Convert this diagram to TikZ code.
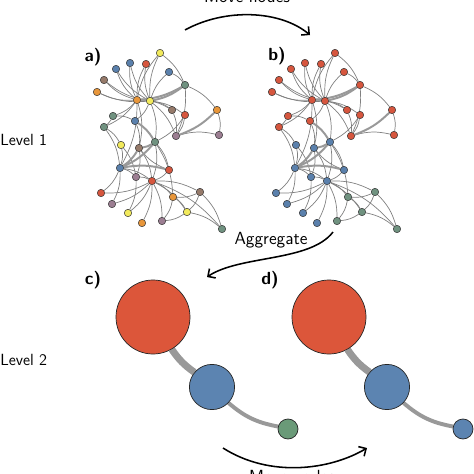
\documentclass[tikz,border=0pt]{standalone}
\usetikzlibrary{arrows.meta, backgrounds}

\definecolor{nRed}{RGB}{214,86,62}
\definecolor{nBlue}{RGB}{90,128,172}
\definecolor{nTeal}{RGB}{112,146,128}
\definecolor{nYellow}{RGB}{242,234,92}
\definecolor{nOrange}{RGB}{232,150,58}
\definecolor{nBrown}{RGB}{150,122,106}
\definecolor{nMauve}{RGB}{156,126,146}
\definecolor{bigRed}{RGB}{220,86,58}
\definecolor{bigBlue}{RGB}{92,132,177}
\definecolor{bigGreen}{RGB}{106,154,120}

\begin{document}
\begin{tikzpicture}[
    x=0.025cm, y=-0.025cm,
    gnode/.style={circle, draw=black!80, line width=0.35pt, inner sep=0pt, minimum size=5.3pt},
    gedge/.style={draw=black!50, line width=0.5pt},
    gthick/.style={draw=black!40, line width=1.4pt},
    bignode/.style={circle, draw=black!85, line width=0.5pt, inner sep=0pt},
    cedge/.style={draw=black!40},
    movearrow/.style={-{Straight Barb[length=4pt,width=8pt]}, line width=1.1pt},
    lbl/.style={font=\fontsize{12.5}{14}\selectfont\sffamily},
    levlbl/.style={font=\fontsize{11.5}{13}\selectfont\sffamily, anchor=west, inner sep=0pt},
    panel/.style={font=\fontsize{12.5}{14}\selectfont\sffamily\bfseries}
]
    \useasboundingbox (0,0) rectangle (474,474);
    \clip (0,0) rectangle (474,474);

    % Level 1 networks (a: nodes, b: communities)
    \foreach \i/\x/\y/\ca/\cb in {
        1/160/53/nYellow/nRed, 2/130/63/nBlue/nRed, 3/146/64/nRed/nRed,
        4/116/69/nBlue/nRed, 5/169/72/nBlue/nRed, 6/104/80/nBrown/nRed,
        7/97/92/nOrange/nRed, 8/185/85/nTeal/nRed, 9/137/100/nOrange/nRed,
        10/150/101/nYellow/nRed, 11/172/110/nBrown/nRed, 12/185/115/nRed/nRed,
        13/217/110/nOrange/nRed, 14/113/116/nTeal/nRed, 15/135/121/nBlue/nRed,
        16/104/127/nTeal/nRed, 17/176/136/nMauve/nRed, 18/219/135/nMauve/nRed,
        19/155/142/nTeal/nBlue, 20/121/145/nYellow/nBlue, 21/139/148/nBrown/nBlue,
        22/120/168/nBlue/nBlue, 23/169/170/nRed/nBlue, 24/136/177/nMauve/nBlue,
        25/152/181/nRed/nBlue, 26/101/193/nRed/nBlue, 27/200/192/nBrown/nTeal,
        28/173/197/nOrange/nTeal, 29/112/204/nMauve/nBlue, 30/187/212/nYellow/nTeal,
        31/128/213/nYellow/nBlue, 32/142/223/nOrange/nBlue, 33/162/221/nMauve/nTeal,
        34/222/229/nTeal/nTeal} {
        \node[gnode, fill=\ca] (a\i) at (\x,\y) {};
        \node[gnode, fill=\cb] (b\i) at (\x+175,\y) {};
    }

    \begin{pgfonlayer}{background}
    \foreach \s/\t in {9/2, 9/3, 9/4, 9/6, 9/7, 9/14, 9/16, 9/1, 9/22, 9/21, 9/11,
        10/1, 10/2, 10/3, 10/5, 10/11, 10/12, 10/17, 10/19, 10/15, 10/4, 10/7, 10/6,
        1/8, 5/8, 8/13, 8/17, 13/18, 17/18, 11/17, 12/17, 12/19,
        14/16, 14/15, 15/21, 16/22, 16/20,
        19/25, 19/23, 19/28, 20/22, 20/24, 21/25, 21/24, 23/21,
        22/24, 22/25, 22/26, 22/29, 23/25, 24/25, 24/31,
        25/26, 25/29, 25/31, 25/32, 25/33, 25/28, 25/27, 25/30, 25/34,
        27/28, 27/30, 27/34, 28/30, 30/33, 30/34, 28/33} {
        \draw[gedge] (a\s) to[bend left=14] (a\t);
        \draw[gedge] (b\s) to[bend left=14] (b\t);
    }
    \foreach \s/\t in {8/10, 8/9, 9/10, 13/17, 19/21, 21/22, 19/22, 22/23, 15/19} {
        \draw[gthick] (a\s) to[bend left=12] (a\t);
        \draw[gthick] (b\s) to[bend left=12] (b\t);
    }
    \end{pgfonlayer}

    % Level 2 aggregated networks
    \node[bignode, fill=bigRed, minimum size=1.85cm] (cR) at (153,317) {};
    \node[bignode, fill=bigBlue, minimum size=1.13cm] (cB) at (212,387) {};
    \node[bignode, fill=bigGreen, minimum size=0.5cm] (cG) at (288,429) {};
    \node[bignode, fill=bigRed, minimum size=1.85cm] (dR) at (329,317) {};
    \node[bignode, fill=bigBlue, minimum size=1.13cm] (dB) at (387,387) {};
    \node[bignode, fill=bigBlue, minimum size=0.5cm] (dS) at (463,429) {};

    \begin{pgfonlayer}{background}
    \draw[cedge, line width=5pt] (cR) to[bend right=10] (cB);
    \draw[cedge, line width=2.8pt] (cB) to[bend right=15] (cG);
    \draw[cedge, line width=5pt] (dR) to[bend right=10] (dB);
    \draw[cedge, line width=2.8pt] (dB) to[bend right=15] (dS);
    \end{pgfonlayer}

    % Labels
    \node[panel] (la) at (93,57) {a)};
    \node[panel] (lb) at (277,56) {b)};
    \node[panel] (lc) at (93,280) {c)};
    \node[panel] (ld) at (270,280) {d)};
    \node[levlbl] (lev1) at (0,140) {Level 1};
    \node[levlbl] (lev2) at (0,360) {Level 2};
    \node[lbl] (agg) at (271,240) {Aggregate};
    \node[lbl, anchor=base, inner sep=0pt] (mv1) at (247,2) {Move nodes};
    \node[lbl, anchor=north, inner sep=0pt] (mv2) at (292,470) {Move nodes};

    % Arrows
    \coordinate (mvAs) at (185,30);
    \coordinate (mvAe) at (310,35);
    \coordinate (agS) at (333,232);
    \coordinate (agE) at (207,277);
    \coordinate (mvBs) at (223,448);
    \coordinate (mvBe) at (367,448);
    \draw[movearrow] (mvAs) .. controls (225,8) and (280,10) .. (mvAe);
    \draw[movearrow] (agS) .. controls (310,262) and (240,255) .. (agE);
    \draw[movearrow] (mvBs) .. controls (270,478) and (330,470) .. (mvBe);
\end{tikzpicture}
\end{document}
